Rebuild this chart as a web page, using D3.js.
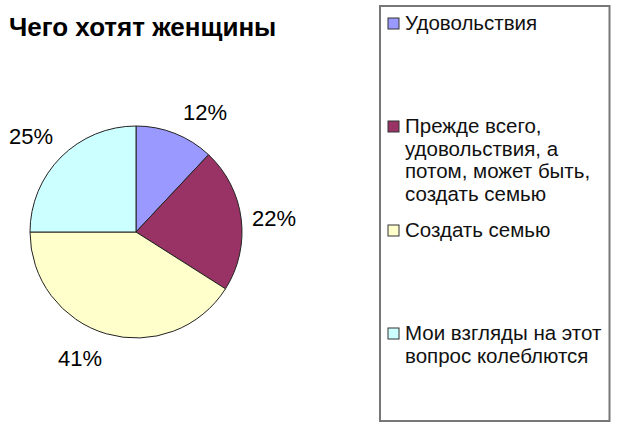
<!DOCTYPE html>
<html><head><meta charset="utf-8">
<script src="https://cdn.jsdelivr.net/npm/d3@7/dist/d3.min.js"></script>
<style>body{margin:0;background:#fff}</style>
</head><body>
<svg id="c" width="620" height="427"></svg>
<script>
const title = "Чего хотят женщины";
const categories = [
  ["Удовольствия"],
  ["Прежде всего,", "удовольствия, а", "потом, может быть,", "создать семью"],
  ["Создать семью"],
  ["Мои взгляды на этот", "вопрос колеблются"]
];
const values = [12, 22, 41, 25];
const colors = ["#9999FF", "#993366", "#FFFFCC", "#CCFFFF"];
const labelPos = [[205,120],[274,226],[80,366],[31,144]];

const svg = d3.select("#c");
const font = "'Liberation Sans', Arial, sans-serif";
svg.append("rect").attr("width",620).attr("height",427).attr("fill","#fff");

svg.append("text").attr("x",9).attr("y",36).attr("font-family",font)
  .attr("font-weight","bold").attr("font-size",26).attr("fill","#000").text(title);

const cx = 136, cy = 232, r = 106;
const pie = d3.pie().sort(null).value(d=>d);
const arcs = pie(values);
const arc = d3.arc().innerRadius(0).outerRadius(r);
const g = svg.append("g").attr("transform",`translate(${cx},${cy})`);
g.selectAll("path").data(arcs).join("path")
  .attr("d",arc).attr("fill",(d,i)=>colors[i])
  .attr("stroke","#222").attr("stroke-width",1);

svg.selectAll("text.lbl").data(arcs).join("text").attr("class","lbl")
  .attr("x",(d,i)=>labelPos[i][0]).attr("y",(d,i)=>labelPos[i][1])
  .attr("text-anchor","middle").attr("font-family",font).attr("font-size",22)
  .attr("fill","#000")
  .text(d=>Math.round(d.data/d3.sum(values)*100)+"%");

// legend
svg.append("rect").attr("x",380).attr("y",6).attr("width",229.5).attr("height",415)
  .attr("fill","#fff").attr("stroke","#777").attr("stroke-width",2);
const firstBase = [30,133,237,340];
const lg = svg.selectAll("g.leg").data(categories).join("g").attr("class","leg");
lg.append("rect").attr("x",388).attr("y",(d,i)=>firstBase[i]-12)
  .attr("width",11).attr("height",11)
  .attr("fill",(d,i)=>colors[i]).attr("stroke","#333").attr("stroke-width",1);
lg.each(function(lines,i){
  const t = d3.select(this).append("text").attr("font-family",font)
    .attr("font-size",20.5).attr("fill","#111");
  lines.forEach((ln,j)=>{
    t.append("tspan").attr("x",405).attr("y",firstBase[i]+j*22.5).text(ln);
  });
});
</script>
</body></html>
